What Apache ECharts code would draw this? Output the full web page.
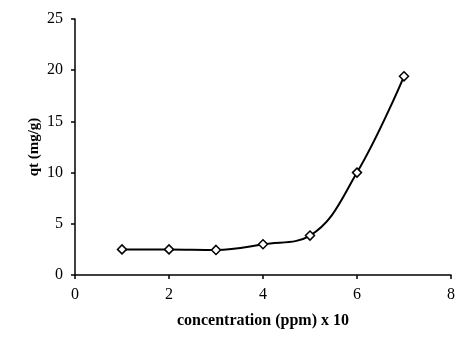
<!DOCTYPE html>
<html><head><meta charset="utf-8">
<script src="https://cdn.jsdelivr.net/npm/echarts@6/dist/echarts.min.js"></script>
<style>html,body{margin:0;padding:0;background:#fff}#c{width:474px;height:349px}</style>
</head><body><div id="c"></div>
<script>
const xValues = [1, 2, 3, 4, 5, 6, 7];
const qtValues = [2.5, 2.5, 2.45, 3.0, 3.85, 10.0, 19.4];
const xTicks = [0, 2, 4, 6, 8];
const yTicks = [0, 5, 10, 15, 20, 25];

const chart = echarts.init(document.getElementById('c'));
const font = '"Liberation Serif", "Times New Roman", serif';
chart.setOption({
  animation: false,
  backgroundColor: '#fff',
  grid: {left: 75, right: 23, top: 19, bottom: 74},
  xAxis: {
    type: 'value', min: xTicks[0], max: xTicks[xTicks.length-1], interval: 2,
    name: 'concentration (ppm) x 10', nameLocation: 'middle', nameGap: 38,
    nameTextStyle: {fontFamily: font, fontWeight: 'bold', fontSize: 16, color: '#000'},
    axisLine: {lineStyle: {color: '#000', width: 1.5}},
    axisTick: {show: true, length: 4, lineStyle: {color: '#000', width: 1.5}},
    axisLabel: {fontFamily: font, fontSize: 16, color: '#000', margin: 12},
    splitLine: {show: false}
  },
  yAxis: {
    type: 'value', min: yTicks[0], max: yTicks[yTicks.length-1], interval: 5,
    name: 'qt (mg/g)', nameLocation: 'middle', nameGap: 33, nameMoveOverlap: false,
    nameTextStyle: {fontFamily: font, fontWeight: 'bold', fontSize: 15, color: '#000'},
    axisLine: {show: true, lineStyle: {color: '#000', width: 1.5}},
    axisTick: {show: true, length: 4, lineStyle: {color: '#000', width: 1.5}},
    axisLabel: {fontFamily: font, fontSize: 16, color: '#000', margin: 12},
    splitLine: {show: false}
  },
  series: [{
    type: 'line',
    data: xValues.map((x, i) => [x, qtValues[i]]),
    smooth: 0.4,
    symbol: 'diamond', symbolSize: 9,
    showAllSymbol: true,
    lineStyle: {color: '#000', width: 2},
    itemStyle: {color: '#fff', borderColor: '#000', borderWidth: 1.5}
  }]
});
</script></body></html>
